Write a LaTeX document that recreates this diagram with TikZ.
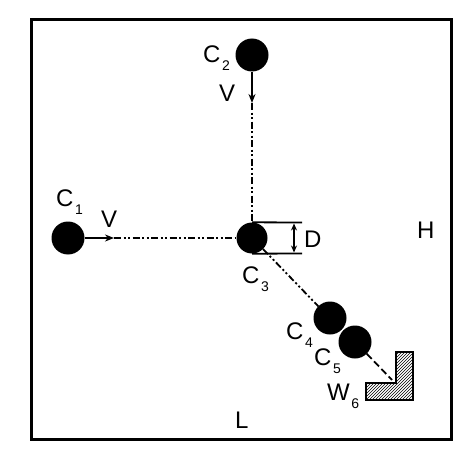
\documentclass[tikz,border=0pt]{standalone}
\usepackage{fontspec}
\setmainfont{Liberation Sans}
\usetikzlibrary{arrows.meta,patterns}
\newcommand\lowsub[1]{\hspace{1.5pt}\raisebox{-8pt}{\fontsize{14}{14}\selectfont #1}}
\begin{document}
\begin{tikzpicture}[x=1pt,y=-1pt,
  ball/.style={circle,fill=black,minimum size=33pt,inner sep=0pt},
  lbl/.style={font=\fontsize{24}{24}\selectfont,inner sep=0pt,anchor=base west},
  dd/.style={line width=1.8pt,dash pattern=on 7pt off 2.5pt on 2pt off 2.5pt on 2pt off 2.5pt},
  vel/.style={line width=1.8pt,-{Stealth[length=9pt,width=7pt]}}]
\useasboundingbox (0,0) rectangle (474,460);
\node[draw,line width=3pt,minimum width=420pt,minimum height=419pt,inner sep=0pt] (frame) at (241,229.5) {};
% balls
\node[ball] (c1) at (68,238) {};
\node[ball] (c2) at (252,55) {};
\node[ball,minimum size=31pt] (c3) at (252,238) {};
\node[ball] (c4) at (330,318) {};
\node[ball] (c5) at (355,342) {};
% wall
\draw[line width=2pt,pattern=north east lines] (366,383) -- (396,383) -- (396,352) -- (413,352) -- (413,400) -- (366,400) -- cycle;
\coordinate (wc) at (392,380);
% velocity arrows
\coordinate (a1) at (114,238);
\coordinate (a2) at (252,103);
\draw[vel] (c1.east) -- (a1);
\draw[vel] (c2.south) -- (a2);
\draw[dd] (a1) -- (c3.west);
\draw[dd] (a2) -- (c3.north);
\draw[dd] (c3.south east) -- (c4.north west);
\draw[line width=1.8pt,dash pattern=on 7pt off 3.5pt] (c5.south east) -- (wc);
% diameter
\coordinate (t1) at (302,222.5);
\coordinate (t2) at (302,253.5);
\draw[line width=1.8pt] (c3.north) -- (t1);
\draw[line width=1.8pt] (c3.south) -- (t2);
\draw[line width=1.3pt,{Stealth[length=7pt,width=6pt]}-{Stealth[length=7pt,width=6pt]}] (294,223.5) -- (294,252.5);
% labels
\node[lbl] (lc1) at (56,206) {C\lowsub{1}};
\node[lbl] (lv1) at (101,227) {V};
\node[lbl] (lc2) at (203,63) {C\lowsub{2}};
\node[lbl] (lv2) at (219,102) {V};
\node[lbl] (ld) at (304,247) {D};
\node[lbl] (lc3) at (242,283) {C\lowsub{3}};
\node[lbl] (lc4) at (286,339) {C\lowsub{4}};
\node[lbl] (lc5) at (314,365) {C\lowsub{5}};
\node[lbl] (lw6) at (327,400) {W\lowsub{6}};
\node[lbl] (lh) at (417,238) {H};
\node[lbl] (ll) at (235,428) {L};
\end{tikzpicture}
\end{document}
